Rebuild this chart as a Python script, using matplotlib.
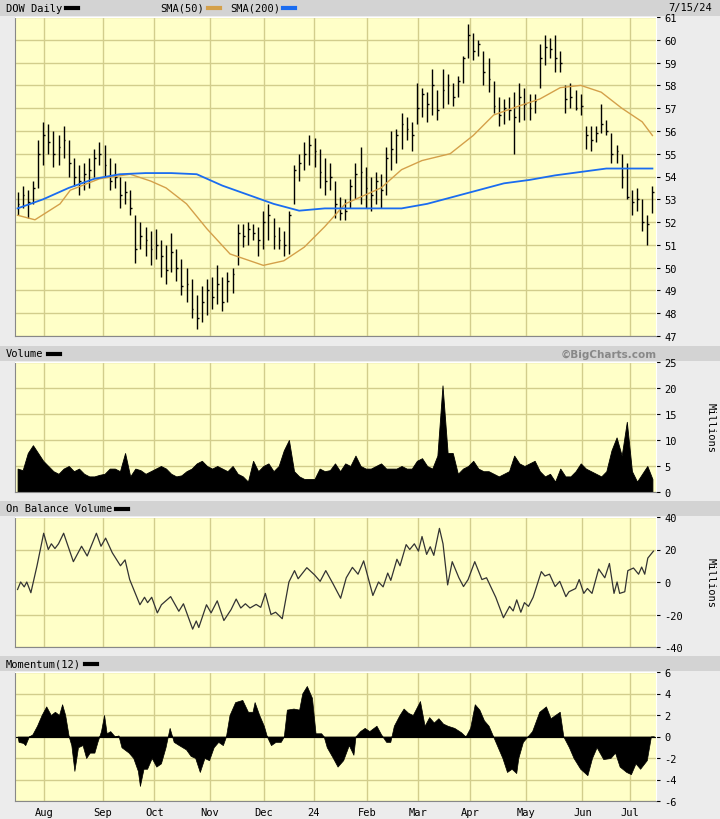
import matplotlib
matplotlib.use('Agg')
import matplotlib.pyplot as plt

plt.rcParams['font.family'] = ['DejaVu Sans Mono']
plt.rcParams['font.size'] = 7.5
plt.rcParams['axes.unicode_minus'] = False

# ---- data (one bar = 2 trading days, 7/2023 .. 7/15/24) ----
hi = [53.3, 53.6, 53.4, 53.8, 55.6, 56.4, 56.3, 56.0, 55.8, 56.2, 55.6,
      54.8, 54.5, 54.6, 54.8, 55.2, 55.5, 55.4, 54.8, 54.6, 54.0, 53.8, 53.4,
      52.3, 52.0, 51.8, 51.6, 51.7, 51.2, 51.0, 51.5, 50.8, 50.4, 50.0,
      49.5, 48.8, 49.2, 49.5, 49.6, 50.1, 49.6, 49.8, 50.0,
      51.9, 51.9, 52.0, 51.9, 51.8, 52.5, 52.8, 52.2, 51.8, 51.6, 52.5,
      54.5, 55.0, 55.5, 55.8, 55.7, 55.2, 54.8, 54.6, 53.8, 53.1,
      53.0, 53.9, 54.6, 55.3, 54.4, 54.0, 54.2, 54.1, 55.3,
      56.0, 56.1, 56.8, 56.6, 56.4, 58.1, 57.9, 57.7, 58.7, 57.8,
      58.7, 58.5, 58.1, 58.4, 59.3, 60.7, 60.3, 60.0, 59.5,
      59.2, 58.2, 57.5, 57.4, 57.5, 57.7, 58.1, 57.9, 57.6, 57.6,
      59.8, 60.2, 60.1, 60.2, 59.5, 58.0, 58.1, 57.8, 57.6, 56.2, 56.2, 56.2,
      57.2, 56.5, 55.9, 55.4, 55.0, 54.6, 53.4, 53.5, 53.0, 52.3, 53.6]
lo = [52.3, 52.6, 52.2, 52.8, 53.5, 54.5, 55.0, 54.4, 54.5, 54.8, 54.0,
      53.6, 53.2, 53.4, 53.5, 54.0, 54.5, 54.0, 53.4, 53.5, 52.6, 52.8, 52.3,
      50.2, 50.8, 50.5, 50.1, 50.4, 49.6, 49.3, 49.8, 49.4, 48.8, 48.5,
      47.8, 47.3, 47.6, 47.9, 48.2, 48.4, 48.1, 48.5, 48.9,
      50.1, 50.9, 51.0, 51.2, 50.5, 50.8, 51.2, 50.8, 50.8, 50.5, 50.6,
      52.8, 53.8, 54.3, 54.5, 54.4, 53.5, 53.2, 53.4, 52.2, 52.1,
      52.1, 52.6, 53.0, 52.8, 52.6, 52.5, 52.8, 52.6, 53.2,
      54.3, 54.6, 55.2, 55.6, 55.1, 56.3, 56.6, 56.4, 56.7, 56.5,
      57.0, 57.2, 57.1, 57.5, 58.1, 59.2, 59.1, 59.3, 58.0,
      57.7, 56.8, 56.2, 56.3, 56.5, 55.0, 56.4, 56.5, 56.5, 56.8,
      57.9, 58.9, 59.2, 58.6, 58.6, 56.8, 57.0, 56.9, 56.7, 55.2, 55.1, 55.5,
      55.9, 55.8, 54.6, 54.6, 53.5, 53.0, 52.3, 52.5, 51.6, 51.0, 52.4]
close = [52.8, 53.2, 52.9, 53.5, 55.0, 55.8, 55.5, 55.0, 55.3, 55.6, 54.6,
         54.0, 53.8, 54.1, 54.3, 54.8, 55.0, 54.5, 53.8, 54.0, 53.2, 53.3, 52.6,
         50.8, 51.4, 51.2, 50.8, 51.0, 50.5, 49.9, 50.7, 50.0, 49.2, 49.3,
         48.2, 47.8, 48.5, 49.0, 48.7, 49.3, 48.5, 49.4, 49.7,
         51.5, 51.4, 51.7, 51.5, 51.2, 52.0, 52.3, 51.4, 51.2, 51.0, 52.3,
         54.3, 54.6, 55.0, 55.4, 55.1, 54.2, 53.8, 54.0, 52.8, 52.4,
         52.5, 53.6, 54.1, 54.2, 53.5, 53.2, 53.8, 53.4, 54.8,
         55.2, 55.8, 56.3, 56.1, 55.8, 57.0, 57.6, 57.2, 58.0, 56.9,
         57.8, 58.0, 57.5, 58.2, 59.2, 60.2, 59.5, 59.8, 58.6,
         58.3, 57.1, 56.7, 57.0, 56.9, 56.6, 57.5, 57.2, 57.0, 57.3,
         59.2, 59.7, 59.6, 59.2, 59.0, 57.4, 57.5, 57.0, 57.1, 55.8, 55.6, 55.9,
         56.3, 56.0, 55.0, 55.1, 54.0, 53.1, 52.9, 53.0, 52.0, 51.9, 53.3]

sma50_day = [0, 3.4, 8.3, 10.3, 16, 22, 26, 29, 33, 37, 41.5, 48, 52, 56, 60,
             64, 67, 71, 75, 79, 84.5, 89, 93, 98, 102, 106, 110, 114, 118, 122, 124]
sma50 = [52.3, 52.1, 52.8, 53.4, 53.9, 54.1, 53.8, 53.5, 52.8, 51.7, 50.6, 50.1,
         50.3, 50.9, 51.8, 52.8, 53.1, 53.5, 54.3, 54.7, 55.0, 55.8, 56.7, 57.1,
         57.4, 57.9, 58.0, 57.7, 57.0, 56.4, 55.8]
sma200_day = [0, 5, 10, 15, 20, 25, 30, 35, 40, 45, 50, 55, 60, 65, 70, 75, 80,
              85, 90, 95, 100, 105, 110, 115, 120, 124]
sma200 = [52.6, 53.0, 53.5, 53.9, 54.1, 54.15, 54.15, 54.1, 53.6, 53.2, 52.8,
          52.5, 52.6, 52.6, 52.6, 52.6, 52.8, 53.1, 53.4, 53.7, 53.85, 54.05,
          54.2, 54.35, 54.35, 54.35]

volume = [4.5, 4.2, 7.5, 9, 7.5, 6, 5, 4, 3.5, 4.5,
          5, 4, 4.5, 3.5, 3, 3, 3.3, 3.5, 4.5, 4.5,
          4, 7.5, 3, 4.5, 4.2, 3.5, 4, 4.5, 5, 4.5,
          3.5, 3, 3.2, 4, 4.5, 5.5, 6, 5, 4.5, 5,
          4.5, 4, 5, 3.5, 3, 2, 6, 4, 5, 5.5,
          4, 5, 8, 10, 4, 3, 2.5, 2.5, 2.5, 4.5,
          4, 4.2, 5.5, 4, 5.5, 5, 7, 5, 4.5, 4.5,
          5, 5.5, 4.5, 4.5, 4.5, 5, 4.5, 4.5, 6, 6.5,
          5, 4.5, 7, 20.5, 7.5, 7.5, 3.5, 4.5, 5, 6,
          4.5, 4, 4, 3.5, 3, 3.5, 4, 7, 5.5, 5,
          5.5, 6, 4, 3, 3.5, 2, 4.5, 3, 3, 4,
          5.5, 4.5, 4, 3.5, 3, 4, 8, 10.5, 7, 13.5,
          4, 2, 3.5, 5, 2.5]

obv_day = [0, 0.6, 1.3, 1.8, 2.6, 3.8, 5.1, 6, 6.6, 7.3, 8, 9, 10.9, 12.5, 13.6,
           15.4, 16.3, 17.2, 18.5, 20.1, 21, 21.9, 23.9, 24.8, 25.4, 26.2, 27.3,
           28.1, 29.9, 31.5, 32.4, 34.2, 34.9, 35.4, 36.9, 37.8, 39, 40.3, 41.7,
           42.7, 43.6, 44.5, 45.4, 46.6, 47.5, 48.4, 49.5, 50.4, 51.7, 53, 54.1,
           54.8, 56.5, 58, 59.1, 60.2, 61.6, 63.1, 64.2, 65.4, 66.5, 67.6, 69.4,
           70.5, 71.4, 72.3, 72.9, 74.1, 74.7, 75.9, 76.6, 77.5, 78.3, 79, 79.9,
           80.6, 81.3, 82.4, 83.1, 84, 84.9, 86.2, 87.1, 88, 89.3, 90.7, 91.6,
           93.4, 94.9, 96.1, 96.8, 97.5, 98.3, 99, 99.8, 100.7, 102.3, 103, 103.9,
           105, 105.9, 107.1, 107.7, 109, 109.7, 110.6, 111.3, 112.2, 113.5,
           114.7, 115.6, 116.5, 117.1, 117.6, 118.6, 119.2, 120.3, 121.3, 121.9,
           122.5, 123.1, 124.2]
obv = [-4.6, 0, -3, 0, -6.6, 10, 30, 20, 23.5, 20.6, 23.5, 30, 12.5, 22, 16,
       30, 22, 27, 18, 10, 13.6, 1.5, -14, -9.4, -12.7, -9.4, -19, -14, -9, -18,
       -13.4, -29, -24, -28, -14, -19, -11.6, -23.7, -17, -10.5, -16, -13.4,
       -16, -13.8, -15.6, -7, -20, -18.6, -22.6, 0, 7, 2, 8.8, 4.4, 0.4, 7, -1,
       -10, 2.6, 9, 4.8, 13, -8.3, 0, -3, 5.5, 1, 14, 10, 23, 20, 23.5, 19, 28,
       17, 21.7, 16.4, 33, 23.5, -1.8, 12.5, 2.6, -2.8, 1.5, 12.5, 1.5, 2.6,
       -9.4, -22, -15, -17.8, -11, -18.6, -12.7, -15, -9.4, 6.4, 3.7, 4.8,
       -2.8, 0.4, -9, -6, -4, 1.5, -7, -4, -7, 8, 2.6, 11.4, -7, 0, -7, -6, 7,
       8.6, 4.8, 9.2, 4.8, 14.7, 19]

mom_day = [0, 0.2, 1.1, 1.5, 2.2, 2.9, 3.8, 4.7, 5.6, 6.5, 7.3, 8.1, 8.7, 9.3,
           10, 10.5, 11.1, 11.8, 12.7, 13.4, 14.1, 15, 15.6, 16.3, 16.9, 17.4,
           18.1, 19, 19.7, 20.3, 21.7, 22.6, 23.5, 23.9, 24.6, 25.3, 26.2, 27.1,
           28, 28.9, 29.7, 30.5, 31.5, 32.9, 33.8, 34.7, 35.6, 36.5, 37.4, 38.3,
           39.2, 40.1, 40.7, 41.4, 42.5, 43.9, 45, 45.9, 46.3, 47.2, 48.1, 48.7,
           49.5, 50.4, 51.4, 52, 52.6, 53.9, 55, 55.6, 56.5, 57.5, 58.2, 59.3,
           59.8, 60.4, 61.6, 62.5, 63.6, 64.7, 65.6, 66, 66.9, 67.8, 68.7, 70.1,
           71, 72, 72.8, 73.5, 74.6, 75.4, 76.3, 77.2, 78.6, 79.5, 80.4, 81.3,
           82.2, 83.1, 84, 85.3, 86.6, 87.5, 88.4, 89.3, 90.2, 91.1, 92, 92.9,
           93.8, 94.7, 95.6, 96.5, 97.4, 97.8, 98.7, 99.6, 100.5, 101.9, 103.2,
           104.1, 105, 105.9, 106.6, 107.7, 108.6, 109.9, 111.3, 112.2, 113.1,
           114.4, 115.8, 116.7, 117.6, 118.9, 119.8, 120.7, 121.6, 122.9, 123.7,
           124.3]
momentum = [0, -0.5, -0.6, -0.8, 0, 0.2, 1, 2, 2.8, 2, 2.3, 2, 3, 2, 0, -0.8,
            -3.2, -1, -0.8, -2, -1.5, -1.5, -0.5, 0.5, 2, 0.3, 0.5, 0, 0.1, -1,
            -1.5, -2, -3.2, -4.6, -3, -3, -2, -2.8, -2.5, -1, 0.8, -0.5, -0.8,
            -1.2, -1.8, -2, -3.3, -2, -2.2, -1, -0.5, -0.8, 0, 2, 3.2, 3.4, 2.3,
            2.3, 3.2, 2, 1, 0, -0.8, -0.5, -0.5, 0, 2.5, 2.6, 2.5, 4, 4.7, 3.6,
            0.3, 0.3, 0, -1, -2, -2.8, -2.2, -0.8, -1.7, 0, 0.5, 0.8, 0.5, 1,
            0.2, -0.5, -0.5, 1, 2, 2.6, 2.2, 2, 3.3, 1, 1.8, 1.3, 1.7, 1.2, 1,
            0.8, 0.4, 0, 0.8, 3, 2.5, 1.5, 1, 0, -1, -2, -3.3, -3, -3.4, -2,
            -0.5, 0, 0.5, 2.3, 2.8, 1.7, 2, 2.3, 0, -1, -2, -3, -3.6, -2, -1,
            -2.1, -2, -1.5, -2.8, -3.3, -3.5, -2.5, -3, -2.2, 0, 0]

month_day = [5.2, 16.7, 26.7, 37.6, 48.1, 57.9, 68.3, 78.2, 88.4, 99.3, 110.3, 119.6]
month_lbl = ['Aug', 'Sep', 'Oct', 'Nov', 'Dec', '24', 'Feb', 'Mar', 'Apr', 'May', 'Jun', 'Jul']

# ---- layout helpers (pixel boxes on a 720x820 canvas) ----
W, H = 720, 820
BG = '#ececec'
PANEL = '#ffffc8'
GRID = '#d2cd8c'
HEAD = '#d3d3d3'

fig = plt.figure(figsize=(W / 100, H / 100), dpi=100, facecolor=BG)

def box(x0, y0, x1, y1):
    return [x0 / W, 1 - y1 / H, (x1 - x0) / W, (y1 - y0) / H]

def header(y0, y1, text, right=None, right_color='#444444'):
    hx = fig.add_axes(box(0, y0, W, y1))
    hx.set_facecolor(HEAD)
    hx.set_xticks([]); hx.set_yticks([])
    for s in hx.spines.values():
        s.set_visible(False)
    hx.text(6 / W, 0.5, text, va='center', ha='left', transform=hx.transAxes)
    if right:
        hx.text(657 / W, 0.5, right, va='center', ha='right', color=right_color,
                fontweight='bold', family='DejaVu Sans', transform=hx.transAxes)
    return hx

def panel(y0, y1, ylo, yhi, yticks, millions=False):
    ax = fig.add_axes(box(15, y0, 656, y1))
    ax.set_facecolor(PANEL)
    ax.set_xlim(-0.5, 124.7)
    ax.set_ylim(ylo, yhi)
    ax.set_yticks(yticks)
    ax.yaxis.tick_right()
    ax.tick_params(axis='y', length=3, pad=3, labelsize=7.5)
    ax.set_xticks(month_day)
    ax.tick_params(axis='x', length=0, labelbottom=False)
    ax.grid(True, color=GRID, lw=1)
    ax.set_axisbelow(True)
    for s in ['top', 'right']:
        ax.spines[s].set_color('#ffffff')
    for s in ['bottom', 'left']:
        ax.spines[s].set_color('#888888')
    if millions:
        ax.text(1.085, 0.5, 'Millions', rotation=270, va='center', ha='center',
                transform=ax.transAxes)
    return ax

# header with legend
hx = header(0, 17, 'DOW Daily')
hx.plot([66 / W, 78 / W], [0.5, 0.5], color='black', lw=3, transform=hx.transAxes)
hx.text(160 / W, 0.5, 'SMA(50)', va='center', transform=hx.transAxes)
hx.plot([208 / W, 220 / W], [0.5, 0.5], color='#d4a04a', lw=3, transform=hx.transAxes)
hx.text(230 / W, 0.5, 'SMA(200)', va='center', transform=hx.transAxes)
hx.plot([283 / W, 295 / W], [0.5, 0.5], color='#1a6cf0', lw=3, transform=hx.transAxes)
hx.text(712 / W, 0.5, '7/15/24', va='center', ha='right', transform=hx.transAxes)

# price
ax = panel(18, 337, 47, 61, range(47, 62))
days = list(range(len(close)))
ax.vlines(days, lo, hi, color='black', lw=1.0)
ax.hlines(close, [d for d in days], [d + 0.35 for d in days], color='black', lw=1)
ax.plot(sma50_day, sma50, color='#d4a04a', lw=1)
ax.plot(sma200_day, sma200, color='#1a6cf0', lw=1.3)

# volume
hv = header(347, 362, 'Volume', right='©BigCharts.com', right_color='#888888')
hv.plot([48 / W, 60 / W], [0.5, 0.5], color='black', lw=3, transform=hv.transAxes)
ax = panel(363, 493, 0, 25, range(0, 26, 5), millions=True)
ax.fill_between(days, volume, 0, color='black', lw=0.6, edgecolor='black')

# on balance volume
ho = header(502, 517, 'On Balance Volume')
ho.plot([116 / W, 128 / W], [0.5, 0.5], color='black', lw=3, transform=ho.transAxes)
ax = panel(518, 648, -40, 40, range(-40, 41, 20), millions=True)
ax.plot(obv_day, obv, color='#333333', lw=0.9)

# momentum
hm = header(657, 672, 'Momentum(12)')
hm.plot([85 / W, 97 / W], [0.5, 0.5], color='black', lw=3, transform=hm.transAxes)
ax = panel(673, 802, -6, 6, range(-6, 7, 2))
ax.fill_between(mom_day, momentum, 0, color='black', lw=0.5)
ax.axhline(0, color='black', lw=0.8)
ax.tick_params(axis='x', labelbottom=True, pad=4)
ax.set_xticklabels(month_lbl)

fig.savefig('out.png', dpi=100, facecolor=BG)
